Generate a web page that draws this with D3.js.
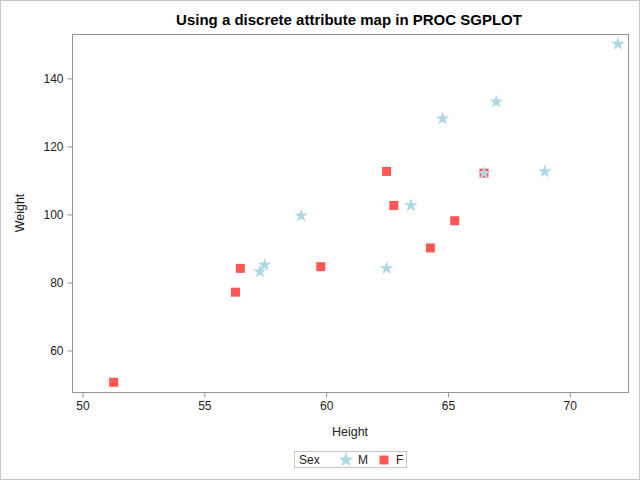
<!DOCTYPE html>
<html>
<head>
<meta charset="utf-8">
<script src="https://cdn.jsdelivr.net/npm/d3@7"></script>
<style>
body { margin: 0; background: white; }
text { font-family: Arial, "Liberation Sans", sans-serif; }
</style>
</head>
<body>
<svg></svg>
<script>
var names   = ["Alfred","Alice","Barbara","Carol","Henry","James","Jane","Janet","Jeffrey","John","Joyce","Judy","Louise","Mary","Philip","Robert","Ronald","Thomas","William"];
var sex     = ["M","F","F","F","M","M","F","F","M","M","F","F","F","F","M","M","M","M","M"];
var heights = [69.0,56.5,65.3,62.8,63.5,57.3,59.8,62.5,62.5,59.0,51.3,64.3,56.3,66.5,72.0,64.8,67.0,57.5,66.5];
var weights = [112.5,84.0,98.0,102.5,102.5,83.0,84.5,112.5,84.0,99.5,50.5,90.0,77.0,112.0,150.0,128.0,133.0,85.0,112.0];
var xTicks  = [50,55,60,65,70];
var yTicks  = [60,80,100,120,140];
var groups  = ["M","F"];

var width = 640, height = 480;
var plotLeft = 72, plotRight = 628, plotTop = 34, plotBottom = 392;
var axisColor = "#8f969c";

var svg = d3.select("svg").attr("width", width).attr("height", height);

svg.append("rect")
	.attr("x", 0.5).attr("y", 0.5)
	.attr("width", width - 1).attr("height", height - 1)
	.attr("fill", "white").attr("stroke", "#c8c8c8");

var x = d3.scaleLinear().domain([49.59, 72.41]).range([plotLeft, plotRight]);
var y = d3.scaleLinear().domain([47.65, 152.9]).range([plotBottom, plotTop]);

//frame
svg.append("rect")
	.attr("x", plotLeft + 0.5).attr("y", plotTop + 0.5)
	.attr("width", plotRight - plotLeft).attr("height", plotBottom - plotTop)
	.attr("fill", "none").attr("stroke", axisColor);

var xAxis = svg.append("g")
	.attr("transform", "translate(0.5," + (plotBottom + 0.5) + ")")
	.call(d3.axisBottom(x).tickValues(xTicks).tickSize(5).tickPadding(4));
var yAxis = svg.append("g")
	.attr("transform", "translate(" + (plotLeft + 0.5) + ",0.5)")
	.call(d3.axisLeft(y).tickValues(yTicks).tickSize(5).tickPadding(4));

[xAxis, yAxis].forEach(function(a){
	a.select(".domain").remove();
	a.selectAll("line").attr("stroke", axisColor);
	a.selectAll("text")
		.attr("fill", "#222")
		.style("font-size", "12px")
		.style("font-family", "Arial, 'Liberation Sans', sans-serif");
});

svg.append("text")
	.text("Using a discrete attribute map in PROC SGPLOT")
	.attr("x", 349).attr("y", 25)
	.attr("text-anchor", "middle")
	.style("font-size", "15px").style("font-weight", "bold")
	.attr("fill", "black");

svg.append("text")
	.text("Height")
	.attr("x", (plotLeft + plotRight) / 2).attr("y", 436)
	.attr("text-anchor", "middle")
	.style("font-size", "12.5px").attr("fill", "#222");

svg.append("text")
	.text("Weight")
	.attr("transform", "translate(24," + ((plotTop + plotBottom) / 2) + ") rotate(-90)")
	.attr("text-anchor", "middle")
	.style("font-size", "12.5px").attr("fill", "#222");

var colors = {M: "#add8e6", F: "#ff5555"};
var symbols = {M: d3.symbol().type(d3.symbolStar).size(58), F: d3.symbol().type(d3.symbolSquare).size(81)};

var points = names.map(function(n, i){
	return {name: n, sex: sex[i], h: heights[i], w: weights[i]};
});

svg.append("g").selectAll("path")
	.data(points)
	.enter()
	.append("path")
	.attr("d", function(d){return symbols[d.sex]()})
	.attr("transform", function(d){return "translate(" + x(d.h) + "," + y(d.w) + ")"})
	.attr("fill", function(d){return colors[d.sex]});

//legend
var legend = svg.append("g");
legend.append("rect")
	.attr("x", 294.5).attr("y", 451.5)
	.attr("width", 112).attr("height", 16)
	.attr("fill", "white").attr("stroke", "#c8c8c8");
legend.append("text")
	.text("Sex")
	.attr("x", 299).attr("y", 464)
	.style("font-size", "12px").attr("fill", "#222");
var items = legend.selectAll("g.item")
	.data(groups)
	.enter()
	.append("g")
	.attr("class", "item")
	.attr("transform", function(d, i){return "translate(" + (346 + i * 38) + ",460)"});
items.append("path")
	.attr("d", function(d){return d == "M" ? d3.symbol().type(d3.symbolStar).size(70)() : symbols[d]()})
	.attr("fill", function(d){return colors[d]});
items.append("text")
	.text(function(d){return d})
	.attr("x", 12).attr("y", 4)
	.style("font-size", "12px").attr("fill", "#222");
</script>
</body>
</html>
